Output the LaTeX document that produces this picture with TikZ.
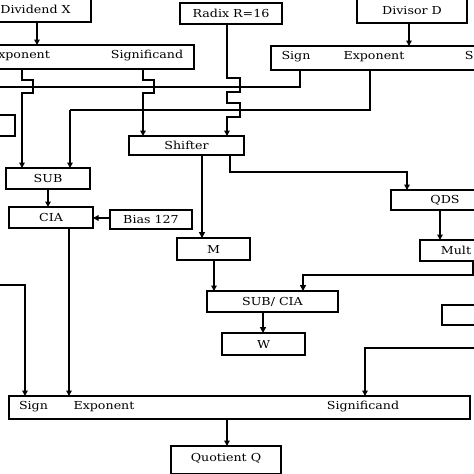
\documentclass[tikz,border=0pt]{standalone}
\usepackage{fontspec}
\setmainfont[FakeStretch=1.15]{DejaVu Serif}
\usetikzlibrary{arrows.meta}

\begin{document}
\begin{tikzpicture}[x = 1pt, y = -1pt,
	blk/.style = {draw, line width = 1.2pt, inner sep = 0, outer sep = 0, font = \fontsize{11}{13}\selectfont},
	fld/.style = {inner sep = 0, font = \fontsize{11}{13}\selectfont},
	wire/.style = {line width = 1.4pt},
	arr/.style = {line width = 1.4pt, -{Triangle[length = 5.5pt, width = 5.5pt]}},
	tarr/.style = {line width = 2.2pt, -{Triangle[length = 6pt, width = 6pt]}}]
	\useasboundingbox (0, 0) rectangle (474, 474);
	\clip (0, 0) rectangle (474, 474);
	\fill[white] (0, 0) rectangle (474, 474);
%%%%%%%%%%%
	\node[blk, minimum width = 111, minimum height = 26] (dividend) at (35.5, 9) {Dividend X};
	\node[blk, minimum width = 102, minimum height = 21] (radix) at (231, 13.5) {Radix R=16};
	\node[blk, minimum width = 110, minimum height = 24] (divisor) at (412, 11) {Divisor D};
	\node[blk, minimum width = 254, minimum height = 24] (xfields) at (67, 57) {};
	\node[fld] (xexpl) at (19.5, 56) {Exponent};
	\node[fld] (xsigl) at (147, 56) {Significand};
	\node[blk, minimum width = 240, minimum height = 24] (dfields) at (391, 58) {};
	\node[fld] (dsgnl) at (296, 57) {Sign};
	\node[fld] (dexpl) at (374, 57) {Exponent};
	\node[fld] (dsigl) at (501, 57) {Significand};
	\node[blk, minimum width = 45, minimum height = 21] (lbox) at (-7.5, 125.5) {};
%%%%%%%%%%%
	\node[blk, minimum width = 115, minimum height = 19] (shifter) at (186.5, 145.5) {Shifter};
	\node[blk, minimum width = 84, minimum height = 21] (sub) at (48, 178.5) {SUB};
	\node[blk, minimum width = 84, minimum height = 21] (cia) at (51, 217.5) {CIA};
	\node[blk, minimum width = 82, minimum height = 19] (bias) at (151, 219.5) {Bias 127};
	\node[blk, minimum width = 108, minimum height = 20] (qds) at (445, 200) {QDS};
	\node[blk, minimum width = 72, minimum height = 21] (mult) at (456, 250.5) {Mult};
	\node[blk, minimum width = 73, minimum height = 22] (m) at (213.5, 249) {M};
	\node[blk, minimum width = 131, minimum height = 21] (subcia) at (272.5, 301.5) {SUB/ CIA};
	\node[blk, minimum width = 83, minimum height = 22] (w) at (263.5, 344) {W};
	\node[blk, minimum width = 58, minimum height = 20] (rbox) at (471, 315) {};
%%%%%%%%%%%
	\node[blk, minimum width = 461, minimum height = 23] (qfields) at (239.5, 407.5) {};
	\node[fld] (qsgnl) at (33.5, 407) {Sign};
	\node[fld] (qexpl) at (104, 407) {Exponent};
	\node[fld] (qsigl) at (363, 407) {Significand};
	\node[blk, minimum width = 110, minimum height = 28, text depth = 5pt] (quotient) at (226, 460) {Quotient Q};
%%%%%%%%%%%
	\coordinate (xexp) at (22, 69);
	\coordinate (xsig) at (143, 69);
	\coordinate (rdx) at (227, 24);
	\coordinate (dsgn) at (300, 70);
	\coordinate (dexp) at (370, 70);
	\coordinate (sgnout) at (-5, 87);
	\coordinate (sgnin) at (-5, 285);
	\coordinate (sigin) at (480, 348);
%%%%%%%%%%%
	\draw[arr] (dividend.south -| 37, 0) -- (xfields.north -| 37, 0);
	\draw[arr] (divisor.south -| 409, 0) -- (dfields.north -| 409, 0);
	\draw[wire] (dsgn) -- ++(0, 17) -- (sgnout);
	\draw[wire] (dexp) -- ++(0, 40) -- (70, 110);
	\draw[arr] (70, 110) -- (sub.north -| 70, 0);
	\draw[arr] (xexp) -- ++(0, 11) -- ++(11, 0) -- ++(0, 13) -- ++(-11, 0) -- (xexp |- sub.north);
	\draw[arr] (xsig) -- ++(0, 11) -- ++(11, 0) -- ++(0, 13) -- ++(-11, 0) -- (xsig |- shifter.north);
	\draw[arr] (rdx) -- ++(0, 54) -- ++(13, 0) -- ++(0, 14) -- ++(-13, 0) -- ++(0, 11) -- ++(13, 0) -- ++(0, 14) -- ++(-13, 0) -- (rdx |- shifter.north);
%%%%%%%%%%%
	\draw[tarr] (shifter.south -| 202, 0) -- (m.north -| 202, 0);
	\draw[arr] (shifter.south -| 230, 0) -- ++(0, 17) -| (qds.north -| 407, 0);
	\draw[arr] (qds.south -| 440, 0) -- (mult.north -| 440, 0);
	\draw[tarr] (mult.south -| 473, 0) -- ++(0, 14) -| (subcia.north -| 303, 0);
	\draw[arr] (m.south -| 214, 0) -- (subcia.north -| 214, 0);
	\draw[tarr] (subcia.south -| 263, 0) -- (w.north -| 263, 0);
	\draw[arr] (sub.south -| 48, 0) -- (cia.north -| 48, 0);
	\draw[arr] (bias.west |- 0, 218) -- (cia.east |- 0, 218);
%%%%%%%%%%%
	\draw[arr] (cia.south -| 69, 0) -- (qfields.north -| 69, 0);
	\draw[arr] (sgnin) -| (qfields.north -| 25, 0);
	\draw[arr] (sigin) -| (qfields.north -| 365, 0);
	\draw[arr] (qfields.south -| 227, 0) -- (quotient.north -| 227, 0);
\end{tikzpicture}
\end{document}
